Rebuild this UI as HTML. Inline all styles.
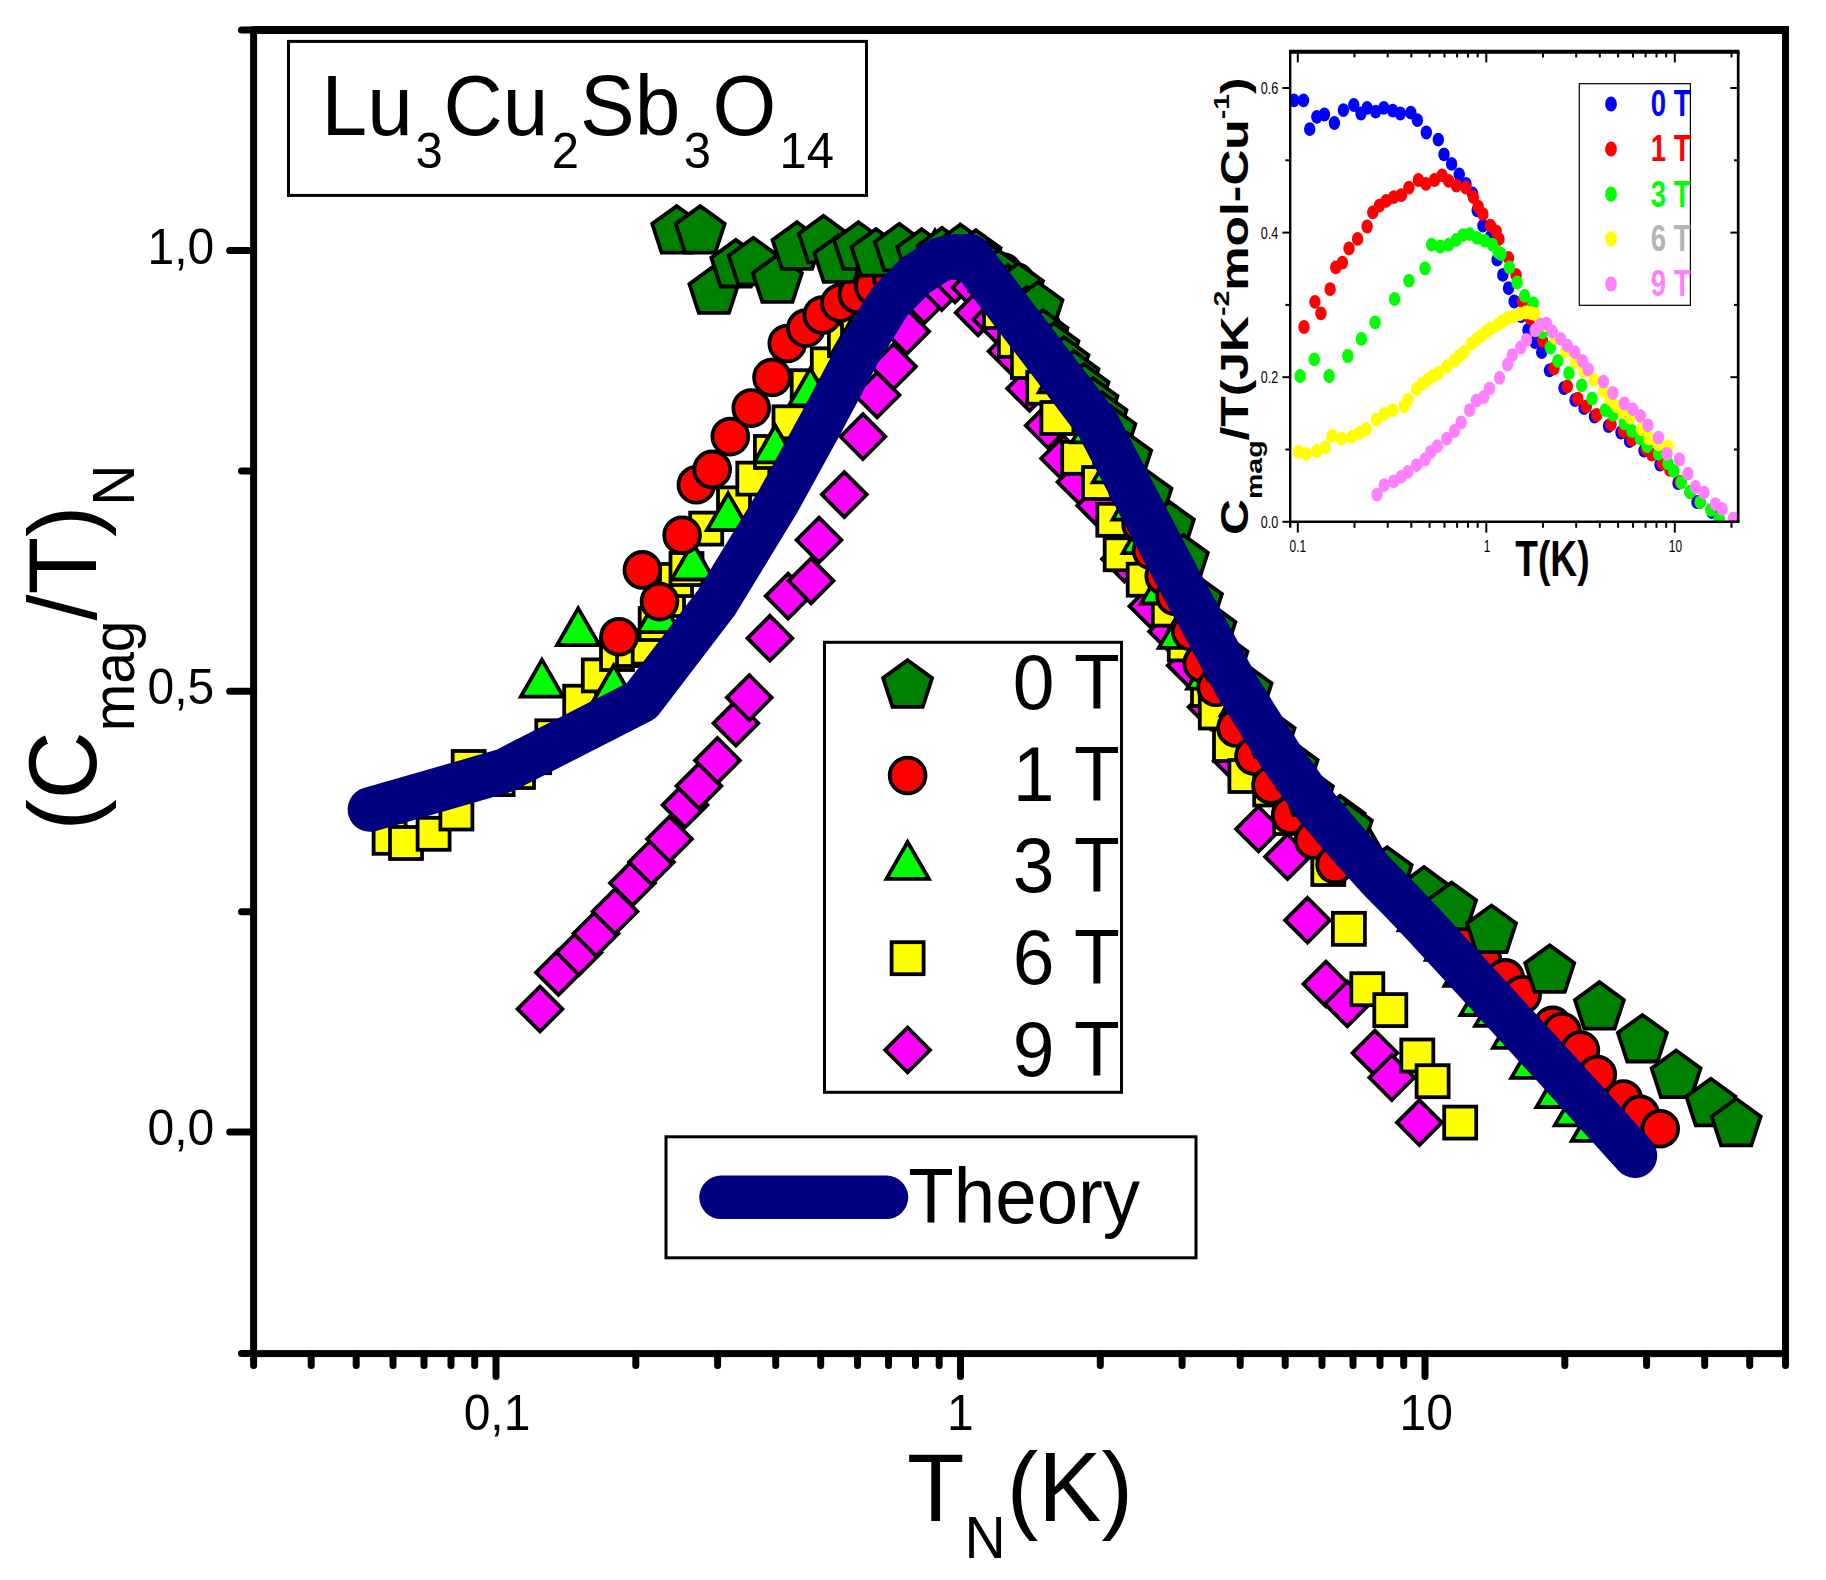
<!DOCTYPE html>
<html lang="en">
<head>
<meta charset="utf-8">
<title>Lu3Cu2Sb3O14 scaled specific heat</title>
<style>html,body{margin:0;padding:0;background:#fff}svg{display:block}</style>
</head>
<body>
<svg width="1826" height="1580" viewBox="0 0 1826 1580" font-family='"Liberation Sans", sans-serif'>
<rect width="1826" height="1580" fill="#fff"/>
<clipPath id="ic"><rect x="1290.2" y="51.8" width="448" height="471.2"/></clipPath>
<g clip-path="url(#ic)">
<g fill="#0000ff">
<ellipse cx="1294" cy="100.3" rx="5.7" ry="6.9"/>
<ellipse cx="1303.5" cy="100.3" rx="5.7" ry="6.9"/>
<ellipse cx="1309.7" cy="129.1" rx="5.7" ry="6.9"/>
<ellipse cx="1316.8" cy="116.8" rx="5.7" ry="6.9"/>
<ellipse cx="1324.4" cy="114.5" rx="5.7" ry="6.9"/>
<ellipse cx="1334.4" cy="123" rx="5.7" ry="6.9"/>
<ellipse cx="1343.4" cy="110.1" rx="5.7" ry="6.9"/>
<ellipse cx="1353.8" cy="105" rx="5.7" ry="6.9"/>
<ellipse cx="1361" cy="113.5" rx="5.7" ry="6.9"/>
<ellipse cx="1367.1" cy="107.8" rx="5.7" ry="6.9"/>
<ellipse cx="1375.6" cy="111.6" rx="5.7" ry="6.9"/>
<ellipse cx="1383.8" cy="107.8" rx="5.7" ry="6.9"/>
<ellipse cx="1392.7" cy="110.7" rx="5.7" ry="6.9"/>
<ellipse cx="1400.3" cy="113.5" rx="5.7" ry="6.9"/>
<ellipse cx="1410.8" cy="112.6" rx="5.7" ry="6.9"/>
<ellipse cx="1417.4" cy="120.2" rx="5.7" ry="6.9"/>
<ellipse cx="1426.3" cy="132.5" rx="5.7" ry="6.9"/>
<ellipse cx="1438.3" cy="139.7" rx="5.7" ry="6.9"/>
<ellipse cx="1444" cy="154.4" rx="5.7" ry="6.9"/>
<ellipse cx="1451.6" cy="163.9" rx="5.7" ry="6.9"/>
<ellipse cx="1459.2" cy="174.3" rx="5.7" ry="6.9"/>
<ellipse cx="1466" cy="184" rx="5.7" ry="6.9"/>
<ellipse cx="1472.5" cy="193.3" rx="5.7" ry="6.9"/>
<ellipse cx="1477.2" cy="210.4" rx="5.7" ry="6.9"/>
<ellipse cx="1482.9" cy="225.6" rx="5.7" ry="6.9"/>
<ellipse cx="1490.5" cy="237" rx="5.7" ry="6.9"/>
<ellipse cx="1497.1" cy="259.7" rx="5.7" ry="6.9"/>
<ellipse cx="1502.8" cy="274.9" rx="5.7" ry="6.9"/>
<ellipse cx="1508.5" cy="288.2" rx="5.7" ry="6.9"/>
<ellipse cx="1514.2" cy="301.5" rx="5.7" ry="6.9"/>
<ellipse cx="1521" cy="316" rx="5.7" ry="6.9"/>
<ellipse cx="1528" cy="330" rx="5.7" ry="6.9"/>
<ellipse cx="1535" cy="342" rx="5.7" ry="6.9"/>
<ellipse cx="1541.7" cy="352.2" rx="5.7" ry="6.9"/>
<ellipse cx="1549.5" cy="370.3" rx="5.7" ry="6.9"/>
<ellipse cx="1564" cy="388" rx="5.7" ry="6.9"/>
<ellipse cx="1575" cy="400" rx="5.7" ry="6.9"/>
<ellipse cx="1584" cy="408" rx="5.7" ry="6.9"/>
<ellipse cx="1594.5" cy="416.5" rx="5.7" ry="6.9"/>
<ellipse cx="1608.5" cy="426" rx="5.7" ry="6.9"/>
<ellipse cx="1621" cy="432.5" rx="5.7" ry="6.9"/>
<ellipse cx="1629.5" cy="441" rx="5.7" ry="6.9"/>
<ellipse cx="1644" cy="450.5" rx="5.7" ry="6.9"/>
<ellipse cx="1660" cy="464.5" rx="5.7" ry="6.9"/>
<ellipse cx="1678" cy="483" rx="5.7" ry="6.9"/>
<ellipse cx="1697" cy="502" rx="5.7" ry="6.9"/>
<ellipse cx="1712" cy="512" rx="5.7" ry="6.9"/>
</g>
<g fill="#ff0000">
<ellipse cx="1304" cy="327" rx="5.7" ry="6.9"/>
<ellipse cx="1314.9" cy="301.8" rx="5.7" ry="6.9"/>
<ellipse cx="1320.9" cy="313.3" rx="5.7" ry="6.9"/>
<ellipse cx="1330.1" cy="289.2" rx="5.7" ry="6.9"/>
<ellipse cx="1335.8" cy="267.3" rx="5.7" ry="6.9"/>
<ellipse cx="1342.4" cy="262.6" rx="5.7" ry="6.9"/>
<ellipse cx="1349" cy="248.4" rx="5.7" ry="6.9"/>
<ellipse cx="1357.6" cy="238.9" rx="5.7" ry="6.9"/>
<ellipse cx="1367.1" cy="226.5" rx="5.7" ry="6.9"/>
<ellipse cx="1372.8" cy="212.3" rx="5.7" ry="6.9"/>
<ellipse cx="1379.4" cy="205.6" rx="5.7" ry="6.9"/>
<ellipse cx="1386.1" cy="200.9" rx="5.7" ry="6.9"/>
<ellipse cx="1393.7" cy="197.1" rx="5.7" ry="6.9"/>
<ellipse cx="1401.3" cy="195.2" rx="5.7" ry="6.9"/>
<ellipse cx="1408.9" cy="187.6" rx="5.7" ry="6.9"/>
<ellipse cx="1418.4" cy="180" rx="5.7" ry="6.9"/>
<ellipse cx="1425.9" cy="183.8" rx="5.7" ry="6.9"/>
<ellipse cx="1434.5" cy="180" rx="5.7" ry="6.9"/>
<ellipse cx="1442.1" cy="175.3" rx="5.7" ry="6.9"/>
<ellipse cx="1448.7" cy="180.9" rx="5.7" ry="6.9"/>
<ellipse cx="1456.3" cy="185.7" rx="5.7" ry="6.9"/>
<ellipse cx="1465.8" cy="187.6" rx="5.7" ry="6.9"/>
<ellipse cx="1473.4" cy="197.1" rx="5.7" ry="6.9"/>
<ellipse cx="1478.2" cy="206.6" rx="5.7" ry="6.9"/>
<ellipse cx="1482.9" cy="214.2" rx="5.7" ry="6.9"/>
<ellipse cx="1490.5" cy="225.6" rx="5.7" ry="6.9"/>
<ellipse cx="1496.2" cy="231.3" rx="5.7" ry="6.9"/>
<ellipse cx="1499" cy="238.9" rx="5.7" ry="6.9"/>
<ellipse cx="1508.5" cy="257.8" rx="5.7" ry="6.9"/>
<ellipse cx="1516.1" cy="274.9" rx="5.7" ry="6.9"/>
<ellipse cx="1522.7" cy="301.5" rx="5.7" ry="6.9"/>
<ellipse cx="1530" cy="318" rx="5.7" ry="6.9"/>
<ellipse cx="1536" cy="330" rx="5.7" ry="6.9"/>
<ellipse cx="1542.7" cy="340.8" rx="5.7" ry="6.9"/>
<ellipse cx="1554" cy="368.4" rx="5.7" ry="6.9"/>
<ellipse cx="1567.3" cy="386.4" rx="5.7" ry="6.9"/>
<ellipse cx="1577.8" cy="398.7" rx="5.7" ry="6.9"/>
<ellipse cx="1586.3" cy="406.3" rx="5.7" ry="6.9"/>
<ellipse cx="1596.8" cy="414.9" rx="5.7" ry="6.9"/>
<ellipse cx="1611" cy="424.4" rx="5.7" ry="6.9"/>
<ellipse cx="1623.4" cy="431" rx="5.7" ry="6.9"/>
<ellipse cx="1631.9" cy="439.6" rx="5.7" ry="6.9"/>
<ellipse cx="1646.1" cy="449" rx="5.7" ry="6.9"/>
<ellipse cx="1651.8" cy="454.7" rx="5.7" ry="6.9"/>
<ellipse cx="1662.3" cy="463.3" rx="5.7" ry="6.9"/>
<ellipse cx="1669.9" cy="469.9" rx="5.7" ry="6.9"/>
<ellipse cx="1680" cy="482" rx="5.7" ry="6.9"/>
<ellipse cx="1690" cy="492" rx="5.7" ry="6.9"/>
<ellipse cx="1700" cy="502" rx="5.7" ry="6.9"/>
</g>
<g fill="#00ff00">
<ellipse cx="1300.1" cy="376" rx="5.7" ry="6.9"/>
<ellipse cx="1314.3" cy="359.4" rx="5.7" ry="6.9"/>
<ellipse cx="1329.1" cy="376" rx="5.7" ry="6.9"/>
<ellipse cx="1347.7" cy="356" rx="5.7" ry="6.9"/>
<ellipse cx="1361.4" cy="338.9" rx="5.7" ry="6.9"/>
<ellipse cx="1375.1" cy="322.4" rx="5.7" ry="6.9"/>
<ellipse cx="1394.6" cy="299" rx="5.7" ry="6.9"/>
<ellipse cx="1408.9" cy="280.6" rx="5.7" ry="6.9"/>
<ellipse cx="1425" cy="268.3" rx="5.7" ry="6.9"/>
<ellipse cx="1431.6" cy="244.6" rx="5.7" ry="6.9"/>
<ellipse cx="1440.2" cy="246.5" rx="5.7" ry="6.9"/>
<ellipse cx="1448.7" cy="244.6" rx="5.7" ry="6.9"/>
<ellipse cx="1456.3" cy="239.8" rx="5.7" ry="6.9"/>
<ellipse cx="1463" cy="235.1" rx="5.7" ry="6.9"/>
<ellipse cx="1469.6" cy="234.1" rx="5.7" ry="6.9"/>
<ellipse cx="1477.2" cy="237.9" rx="5.7" ry="6.9"/>
<ellipse cx="1484.8" cy="240.8" rx="5.7" ry="6.9"/>
<ellipse cx="1492.4" cy="244.6" rx="5.7" ry="6.9"/>
<ellipse cx="1498.1" cy="252.2" rx="5.7" ry="6.9"/>
<ellipse cx="1500.9" cy="254" rx="5.7" ry="6.9"/>
<ellipse cx="1509.4" cy="267.3" rx="5.7" ry="6.9"/>
<ellipse cx="1517" cy="282.5" rx="5.7" ry="6.9"/>
<ellipse cx="1524.6" cy="295.8" rx="5.7" ry="6.9"/>
<ellipse cx="1533.2" cy="303.4" rx="5.7" ry="6.9"/>
<ellipse cx="1542.7" cy="332.3" rx="5.7" ry="6.9"/>
<ellipse cx="1550.3" cy="347.5" rx="5.7" ry="6.9"/>
<ellipse cx="1557.8" cy="360.8" rx="5.7" ry="6.9"/>
<ellipse cx="1568.9" cy="373.1" rx="5.7" ry="6.9"/>
<ellipse cx="1581.6" cy="385.4" rx="5.7" ry="6.9"/>
<ellipse cx="1592" cy="398.7" rx="5.7" ry="6.9"/>
<ellipse cx="1605.3" cy="410.1" rx="5.7" ry="6.9"/>
<ellipse cx="1612.9" cy="414.9" rx="5.7" ry="6.9"/>
<ellipse cx="1624.3" cy="423.4" rx="5.7" ry="6.9"/>
<ellipse cx="1631.9" cy="431" rx="5.7" ry="6.9"/>
<ellipse cx="1640.4" cy="438.6" rx="5.7" ry="6.9"/>
<ellipse cx="1647.1" cy="446.2" rx="5.7" ry="6.9"/>
<ellipse cx="1658.5" cy="453.8" rx="5.7" ry="6.9"/>
<ellipse cx="1668" cy="463.3" rx="5.7" ry="6.9"/>
<ellipse cx="1673.7" cy="470.9" rx="5.7" ry="6.9"/>
<ellipse cx="1681.3" cy="482.3" rx="5.7" ry="6.9"/>
<ellipse cx="1690" cy="492" rx="5.7" ry="6.9"/>
<ellipse cx="1700.2" cy="502.2" rx="5.7" ry="6.9"/>
<ellipse cx="1710.7" cy="509.8" rx="5.7" ry="6.9"/>
<ellipse cx="1719.2" cy="518.4" rx="5.7" ry="6.9"/>
</g>
<g fill="#ffff00">
<ellipse cx="1298.7" cy="451.9" rx="5.7" ry="6.9"/>
<ellipse cx="1306.3" cy="453.8" rx="5.7" ry="6.9"/>
<ellipse cx="1316.8" cy="451" rx="5.7" ry="6.9"/>
<ellipse cx="1325.3" cy="447.2" rx="5.7" ry="6.9"/>
<ellipse cx="1332" cy="435.8" rx="5.7" ry="6.9"/>
<ellipse cx="1341.5" cy="438.6" rx="5.7" ry="6.9"/>
<ellipse cx="1351.9" cy="436.7" rx="5.7" ry="6.9"/>
<ellipse cx="1359.5" cy="432.9" rx="5.7" ry="6.9"/>
<ellipse cx="1366.1" cy="429.1" rx="5.7" ry="6.9"/>
<ellipse cx="1376.6" cy="419.6" rx="5.7" ry="6.9"/>
<ellipse cx="1384.2" cy="413.9" rx="5.7" ry="6.9"/>
<ellipse cx="1392.7" cy="410.1" rx="5.7" ry="6.9"/>
<ellipse cx="1404.1" cy="406.3" rx="5.7" ry="6.9"/>
<ellipse cx="1407.9" cy="399.7" rx="5.7" ry="6.9"/>
<ellipse cx="1416.5" cy="389.2" rx="5.7" ry="6.9"/>
<ellipse cx="1422" cy="384" rx="5.7" ry="6.9"/>
<ellipse cx="1427.8" cy="379.7" rx="5.7" ry="6.9"/>
<ellipse cx="1433" cy="376" rx="5.7" ry="6.9"/>
<ellipse cx="1438.3" cy="373.1" rx="5.7" ry="6.9"/>
<ellipse cx="1446.8" cy="366.5" rx="5.7" ry="6.9"/>
<ellipse cx="1454.4" cy="360.8" rx="5.7" ry="6.9"/>
<ellipse cx="1459" cy="356" rx="5.7" ry="6.9"/>
<ellipse cx="1463.9" cy="352.2" rx="5.7" ry="6.9"/>
<ellipse cx="1471.5" cy="343.7" rx="5.7" ry="6.9"/>
<ellipse cx="1476" cy="340" rx="5.7" ry="6.9"/>
<ellipse cx="1481" cy="336.1" rx="5.7" ry="6.9"/>
<ellipse cx="1486" cy="332" rx="5.7" ry="6.9"/>
<ellipse cx="1490.5" cy="328.5" rx="5.7" ry="6.9"/>
<ellipse cx="1498.1" cy="324.7" rx="5.7" ry="6.9"/>
<ellipse cx="1502.8" cy="320.9" rx="5.7" ry="6.9"/>
<ellipse cx="1508" cy="318" rx="5.7" ry="6.9"/>
<ellipse cx="1514.2" cy="316.1" rx="5.7" ry="6.9"/>
<ellipse cx="1520" cy="314" rx="5.7" ry="6.9"/>
<ellipse cx="1525.6" cy="312.3" rx="5.7" ry="6.9"/>
<ellipse cx="1531" cy="313" rx="5.7" ry="6.9"/>
<ellipse cx="1535.1" cy="314.2" rx="5.7" ry="6.9"/>
<ellipse cx="1545" cy="325" rx="5.7" ry="6.9"/>
<ellipse cx="1555" cy="338" rx="5.7" ry="6.9"/>
<ellipse cx="1565.4" cy="351.3" rx="5.7" ry="6.9"/>
<ellipse cx="1575" cy="362" rx="5.7" ry="6.9"/>
<ellipse cx="1584" cy="371" rx="5.7" ry="6.9"/>
<ellipse cx="1593.9" cy="379.7" rx="5.7" ry="6.9"/>
<ellipse cx="1603.4" cy="391.1" rx="5.7" ry="6.9"/>
<ellipse cx="1610" cy="399" rx="5.7" ry="6.9"/>
<ellipse cx="1616.7" cy="406.3" rx="5.7" ry="6.9"/>
<ellipse cx="1623" cy="412" rx="5.7" ry="6.9"/>
<ellipse cx="1630" cy="417.7" rx="5.7" ry="6.9"/>
<ellipse cx="1641.4" cy="429.1" rx="5.7" ry="6.9"/>
<ellipse cx="1649" cy="438.6" rx="5.7" ry="6.9"/>
<ellipse cx="1658.5" cy="444.3" rx="5.7" ry="6.9"/>
<ellipse cx="1668" cy="446.2" rx="5.7" ry="6.9"/>
</g>
<g fill="#ff80ff">
<ellipse cx="1377" cy="494.6" rx="5.7" ry="6.9"/>
<ellipse cx="1384.2" cy="485.1" rx="5.7" ry="6.9"/>
<ellipse cx="1393.7" cy="481.3" rx="5.7" ry="6.9"/>
<ellipse cx="1401.3" cy="476.6" rx="5.7" ry="6.9"/>
<ellipse cx="1407.9" cy="471.8" rx="5.7" ry="6.9"/>
<ellipse cx="1416.5" cy="465.2" rx="5.7" ry="6.9"/>
<ellipse cx="1425" cy="459.5" rx="5.7" ry="6.9"/>
<ellipse cx="1430.7" cy="451.9" rx="5.7" ry="6.9"/>
<ellipse cx="1437.3" cy="446.2" rx="5.7" ry="6.9"/>
<ellipse cx="1446.8" cy="438.6" rx="5.7" ry="6.9"/>
<ellipse cx="1454.4" cy="431" rx="5.7" ry="6.9"/>
<ellipse cx="1461.1" cy="422.5" rx="5.7" ry="6.9"/>
<ellipse cx="1469.6" cy="410.1" rx="5.7" ry="6.9"/>
<ellipse cx="1476.3" cy="400.6" rx="5.7" ry="6.9"/>
<ellipse cx="1483.8" cy="397" rx="5.7" ry="6.9"/>
<ellipse cx="1489.5" cy="388.3" rx="5.7" ry="6.9"/>
<ellipse cx="1499.5" cy="377.8" rx="5.7" ry="6.9"/>
<ellipse cx="1507.5" cy="364.6" rx="5.7" ry="6.9"/>
<ellipse cx="1512.3" cy="355.1" rx="5.7" ry="6.9"/>
<ellipse cx="1520.8" cy="347.5" rx="5.7" ry="6.9"/>
<ellipse cx="1526.5" cy="339.9" rx="5.7" ry="6.9"/>
<ellipse cx="1535.1" cy="330.4" rx="5.7" ry="6.9"/>
<ellipse cx="1540.8" cy="324.7" rx="5.7" ry="6.9"/>
<ellipse cx="1546.5" cy="323.7" rx="5.7" ry="6.9"/>
<ellipse cx="1552.2" cy="331.3" rx="5.7" ry="6.9"/>
<ellipse cx="1560.7" cy="338.9" rx="5.7" ry="6.9"/>
<ellipse cx="1567.3" cy="345.6" rx="5.7" ry="6.9"/>
<ellipse cx="1574.9" cy="352.2" rx="5.7" ry="6.9"/>
<ellipse cx="1582.5" cy="360.8" rx="5.7" ry="6.9"/>
<ellipse cx="1588.2" cy="369.3" rx="5.7" ry="6.9"/>
<ellipse cx="1603.4" cy="381.6" rx="5.7" ry="6.9"/>
<ellipse cx="1612.9" cy="393" rx="5.7" ry="6.9"/>
<ellipse cx="1624.3" cy="403.5" rx="5.7" ry="6.9"/>
<ellipse cx="1632.8" cy="409.2" rx="5.7" ry="6.9"/>
<ellipse cx="1640.4" cy="415.8" rx="5.7" ry="6.9"/>
<ellipse cx="1648" cy="425.3" rx="5.7" ry="6.9"/>
<ellipse cx="1658.5" cy="437.7" rx="5.7" ry="6.9"/>
<ellipse cx="1667" cy="453.8" rx="5.7" ry="6.9"/>
<ellipse cx="1679.4" cy="459.5" rx="5.7" ry="6.9"/>
<ellipse cx="1687.9" cy="473.7" rx="5.7" ry="6.9"/>
<ellipse cx="1695.5" cy="487" rx="5.7" ry="6.9"/>
<ellipse cx="1704" cy="492.7" rx="5.7" ry="6.9"/>
<ellipse cx="1715.4" cy="504.1" rx="5.7" ry="6.9"/>
<ellipse cx="1722.1" cy="508.9" rx="5.7" ry="6.9"/>
<ellipse cx="1733.5" cy="518.4" rx="5.7" ry="6.9"/>
</g>
</g>
<g stroke="#000" fill="none">
<line x1="1289" y1="51.8" x2="1739.5" y2="51.8" stroke-width="4"/>
<line x1="1289" y1="521.8" x2="1739.5" y2="521.8" stroke-width="2.4"/>
<line x1="1290.2" y1="51.8" x2="1290.2" y2="527.8" stroke-width="2.4"/>
<line x1="1738.2" y1="51.8" x2="1738.2" y2="521.8" stroke-width="2.7"/>
</g>
<g stroke="#000" stroke-width="2" fill="none">
<line x1="1297.8" y1="521.8" x2="1297.8" y2="532.6"/>
<line x1="1297.8" y1="51.8" x2="1297.8" y2="62.4"/>
<line x1="1354.5" y1="521.8" x2="1354.5" y2="527.8"/>
<line x1="1354.5" y1="51.8" x2="1354.5" y2="57.4"/>
<line x1="1387.7" y1="521.8" x2="1387.7" y2="527.8"/>
<line x1="1387.7" y1="51.8" x2="1387.7" y2="57.4"/>
<line x1="1411.3" y1="521.8" x2="1411.3" y2="527.8"/>
<line x1="1411.3" y1="51.8" x2="1411.3" y2="57.4"/>
<line x1="1429.6" y1="521.8" x2="1429.6" y2="527.8"/>
<line x1="1429.6" y1="51.8" x2="1429.6" y2="57.4"/>
<line x1="1444.5" y1="521.8" x2="1444.5" y2="527.8"/>
<line x1="1444.5" y1="51.8" x2="1444.5" y2="57.4"/>
<line x1="1457.1" y1="521.8" x2="1457.1" y2="527.8"/>
<line x1="1457.1" y1="51.8" x2="1457.1" y2="57.4"/>
<line x1="1468" y1="521.8" x2="1468" y2="527.8"/>
<line x1="1468" y1="51.8" x2="1468" y2="57.4"/>
<line x1="1477.7" y1="521.8" x2="1477.7" y2="527.8"/>
<line x1="1477.7" y1="51.8" x2="1477.7" y2="57.4"/>
<line x1="1486.3" y1="521.8" x2="1486.3" y2="532.6"/>
<line x1="1486.3" y1="51.8" x2="1486.3" y2="62.4"/>
<line x1="1543" y1="521.8" x2="1543" y2="527.8"/>
<line x1="1543" y1="51.8" x2="1543" y2="57.4"/>
<line x1="1576.2" y1="521.8" x2="1576.2" y2="527.8"/>
<line x1="1576.2" y1="51.8" x2="1576.2" y2="57.4"/>
<line x1="1599.8" y1="521.8" x2="1599.8" y2="527.8"/>
<line x1="1599.8" y1="51.8" x2="1599.8" y2="57.4"/>
<line x1="1618.1" y1="521.8" x2="1618.1" y2="527.8"/>
<line x1="1618.1" y1="51.8" x2="1618.1" y2="57.4"/>
<line x1="1633" y1="521.8" x2="1633" y2="527.8"/>
<line x1="1633" y1="51.8" x2="1633" y2="57.4"/>
<line x1="1645.6" y1="521.8" x2="1645.6" y2="527.8"/>
<line x1="1645.6" y1="51.8" x2="1645.6" y2="57.4"/>
<line x1="1656.5" y1="521.8" x2="1656.5" y2="527.8"/>
<line x1="1656.5" y1="51.8" x2="1656.5" y2="57.4"/>
<line x1="1666.2" y1="521.8" x2="1666.2" y2="527.8"/>
<line x1="1666.2" y1="51.8" x2="1666.2" y2="57.4"/>
<line x1="1674.8" y1="521.8" x2="1674.8" y2="532.6"/>
<line x1="1674.8" y1="51.8" x2="1674.8" y2="62.4"/>
<line x1="1731.5" y1="521.8" x2="1731.5" y2="527.8"/>
<line x1="1731.5" y1="51.8" x2="1731.5" y2="57.4"/>
<line x1="1282.4" y1="521.8" x2="1290.2" y2="521.8"/>
<line x1="1730.4" y1="521.8" x2="1738.2" y2="521.8"/>
<line x1="1285.4" y1="449.5" x2="1290.2" y2="449.5"/>
<line x1="1734" y1="449.5" x2="1738.2" y2="449.5"/>
<line x1="1282.4" y1="377.2" x2="1290.2" y2="377.2"/>
<line x1="1730.4" y1="377.2" x2="1738.2" y2="377.2"/>
<line x1="1285.4" y1="304.9" x2="1290.2" y2="304.9"/>
<line x1="1734" y1="304.9" x2="1738.2" y2="304.9"/>
<line x1="1282.4" y1="232.6" x2="1290.2" y2="232.6"/>
<line x1="1730.4" y1="232.6" x2="1738.2" y2="232.6"/>
<line x1="1285.4" y1="160.3" x2="1290.2" y2="160.3"/>
<line x1="1734" y1="160.3" x2="1738.2" y2="160.3"/>
<line x1="1282.4" y1="88" x2="1290.2" y2="88"/>
<line x1="1730.4" y1="88" x2="1738.2" y2="88"/>
</g>
<g font-size="17" fill="#000">
<text transform="translate(1278.2,527.7) scale(0.74,1)" text-anchor="end">0.0</text>
<text transform="translate(1278.2,383.1) scale(0.74,1)" text-anchor="end">0.2</text>
<text transform="translate(1278.2,238.5) scale(0.74,1)" text-anchor="end">0.4</text>
<text transform="translate(1278.2,93.9) scale(0.74,1)" text-anchor="end">0.6</text>
<text transform="translate(1297.8,551.6) scale(0.7,1)" text-anchor="middle">0.1</text>
<text transform="translate(1487,551.6) scale(0.7,1)" text-anchor="middle">1</text>
<text transform="translate(1675.4,551.6) scale(0.7,1)" text-anchor="middle">10</text>
</g>
<text transform="translate(1515.2,575.7) scale(0.775,1.04)" font-size="48" font-weight="bold" fill="#000">T(K)</text>
<text transform="translate(1248.4,535) scale(0.78,1) rotate(-90)" font-size="49.8" font-weight="bold" fill="#000">C<tspan font-size="28.5" dy="18">mag</tspan><tspan dy="-18">/T(JK</tspan><tspan font-size="28.5" dy="-25">-2</tspan><tspan dy="25">mol-Cu</tspan><tspan font-size="28.5" dy="-25">-1</tspan><tspan dy="25">)</tspan></text>
<rect x="1579.3" y="83.7" width="111.1" height="221.6" fill="#fff" stroke="#000" stroke-width="1.2"/>
<ellipse cx="1611" cy="104" rx="5.9" ry="7.6" fill="#0000ff"/>
<text transform="translate(1690.6,116.4) scale(0.755,1)" text-anchor="end" font-size="36.5" font-weight="bold" fill="#0000ff">0 T</text>
<ellipse cx="1611" cy="149" rx="5.9" ry="7.6" fill="#ff0000"/>
<text transform="translate(1690.6,161.4) scale(0.755,1)" text-anchor="end" font-size="36.5" font-weight="bold" fill="#ff0000">1 T</text>
<ellipse cx="1611" cy="194.2" rx="5.9" ry="7.6" fill="#00ff00"/>
<text transform="translate(1690.6,206.6) scale(0.755,1)" text-anchor="end" font-size="36.5" font-weight="bold" fill="#00ff00">3 T</text>
<ellipse cx="1611" cy="238.9" rx="5.9" ry="7.6" fill="#ffff00"/>
<text transform="translate(1690.6,251.3) scale(0.755,1)" text-anchor="end" font-size="36.5" font-weight="bold" fill="#b4b4b4">6 T</text>
<ellipse cx="1611" cy="284" rx="5.9" ry="7.6" fill="#ff80ff"/>
<text transform="translate(1690.6,296.4) scale(0.755,1)" text-anchor="end" font-size="36.5" font-weight="bold" fill="#ff80ff">9 T</text>
<g fill="#ff00ff" stroke="#000" stroke-width="3.8" stroke-linejoin="miter">
<polygon points="540,986.6 562.4,1009 540,1031.4 517.6,1009"/>
<polygon points="558.5,950.1 580.9,972.5 558.5,994.9 536.1,972.5"/>
<polygon points="579,930.1 601.4,952.5 579,974.9 556.6,952.5"/>
<polygon points="596,911.1 618.4,933.5 596,955.9 573.6,933.5"/>
<polygon points="615,889.1 637.4,911.5 615,933.9 592.6,911.5"/>
<polygon points="632.5,860.6 654.9,883 632.5,905.4 610.1,883"/>
<polygon points="651.5,839.6 673.9,862 651.5,884.4 629.1,862"/>
<polygon points="669.5,816.6 691.9,839 669.5,861.4 647.1,839"/>
<polygon points="685,782.6 707.4,805 685,827.4 662.6,805"/>
<polygon points="698.9,763.7 721.3,786.1 698.9,808.5 676.5,786.1"/>
<polygon points="717.5,738 739.9,760.4 717.5,782.8 695.1,760.4"/>
<polygon points="735.9,700.8 758.3,723.2 735.9,745.6 713.5,723.2"/>
<polygon points="749.3,675.2 771.7,697.6 749.3,720 726.9,697.6"/>
<polygon points="769.9,615.8 792.3,638.2 769.9,660.6 747.5,638.2"/>
<polygon points="788.1,573.7 810.5,596.1 788.1,618.5 765.7,596.1"/>
<polygon points="811.1,558.4 833.5,580.8 811.1,603.2 788.7,580.8"/>
<polygon points="819,517.6 841.4,540 819,562.4 796.6,540"/>
<polygon points="844.3,472.2 866.7,494.6 844.3,517 821.9,494.6"/>
<polygon points="862.9,414.2 885.3,436.6 862.9,459 840.5,436.6"/>
<polygon points="877.1,372.6 899.5,395 877.1,417.4 854.7,395"/>
<polygon points="893.5,344.1 915.9,366.5 893.5,388.9 871.1,366.5"/>
<polygon points="906.7,309 929.1,331.4 906.7,353.8 884.3,331.4"/>
<polygon points="924.2,278.4 946.6,300.8 924.2,323.2 901.8,300.8"/>
<polygon points="941.7,265.2 964.1,287.6 941.7,310 919.3,287.6"/>
<polygon points="955,257.6 977.4,280 955,302.4 932.6,280"/>
<polygon points="974.9,265.2 997.3,287.6 974.9,310 952.5,287.6"/>
<polygon points="978.1,290.4 1000.5,312.8 978.1,335.2 955.7,312.8"/>
<polygon points="995.7,297 1018.1,319.4 995.7,341.8 973.3,319.4"/>
<polygon points="1011,328.8 1033.4,351.2 1011,373.6 988.6,351.2"/>
<polygon points="1029.6,366 1052,388.4 1029.6,410.8 1007.2,388.4"/>
<polygon points="1048.2,403.2 1070.6,425.6 1048.2,448 1025.8,425.6"/>
<polygon points="1063.6,436.1 1086,458.5 1063.6,480.9 1041.2,458.5"/>
<polygon points="1080,459.6 1102.4,482 1080,504.4 1057.6,482"/>
<polygon points="1099.7,483.2 1122.1,505.6 1099.7,528 1077.3,505.6"/>
<polygon points="1124.5,536.7 1146.9,559.1 1124.5,581.5 1102.1,559.1"/>
<polygon points="1151.9,583.8 1174.3,606.2 1151.9,628.6 1129.5,606.2"/>
<polygon points="1171.6,609 1194,631.4 1171.6,653.8 1149.2,631.4"/>
<polygon points="1190.2,643 1212.6,665.4 1190.2,687.8 1167.8,665.4"/>
<polygon points="1211,684.6 1233.4,707 1211,729.4 1188.6,707"/>
<polygon points="1236.2,738.3 1258.6,760.7 1236.2,783.1 1213.8,760.7"/>
<polygon points="1258.5,806.6 1280.9,829 1258.5,851.4 1236.1,829"/>
<polygon points="1287.5,834.3 1309.9,856.7 1287.5,879.1 1265.1,856.7"/>
<polygon points="1307.5,897.8 1329.9,920.2 1307.5,942.6 1285.1,920.2"/>
<polygon points="1325.9,961.6 1348.3,984 1325.9,1006.4 1303.5,984"/>
<polygon points="1347.3,981.5 1369.7,1003.9 1347.3,1026.3 1324.9,1003.9"/>
<polygon points="1374.9,1030.6 1397.3,1053 1374.9,1075.4 1352.5,1053"/>
<polygon points="1391.8,1055.2 1414.2,1077.6 1391.8,1100 1369.4,1077.6"/>
<polygon points="1419.4,1100.2 1441.8,1122.6 1419.4,1145 1397,1122.6"/>
</g>
<g fill="#ffff00" stroke="#000" stroke-width="3.8" stroke-linejoin="miter">
<rect x="373.6" y="821.8" width="32" height="32"/>
<rect x="390" y="827" width="32" height="32"/>
<rect x="417.6" y="817.8" width="32" height="32"/>
<rect x="440.4" y="797.5" width="32" height="32"/>
<rect x="452.7" y="751" width="32" height="32"/>
<rect x="481.6" y="763.1" width="32" height="32"/>
<rect x="502" y="756" width="32" height="32"/>
<rect x="518.2" y="741.2" width="32" height="32"/>
<rect x="536.3" y="720.3" width="32" height="32"/>
<rect x="564.2" y="685.7" width="32" height="32"/>
<rect x="582.8" y="659.4" width="32" height="32"/>
<rect x="601" y="638" width="32" height="32"/>
<rect x="617" y="634" width="32" height="32"/>
<rect x="632.7" y="631.6" width="32" height="32"/>
<rect x="639.7" y="608" width="32" height="32"/>
<rect x="652" y="584" width="32" height="32"/>
<rect x="660" y="564" width="32" height="32"/>
<rect x="670.5" y="553" width="32" height="32"/>
<rect x="690.2" y="512.6" width="32" height="32"/>
<rect x="718" y="487.4" width="32" height="32"/>
<rect x="737.3" y="462.6" width="32" height="32"/>
<rect x="754.9" y="436" width="32" height="32"/>
<rect x="773.5" y="406.3" width="32" height="32"/>
<rect x="791.7" y="370.2" width="32" height="32"/>
<rect x="811.8" y="348.3" width="32" height="32"/>
<rect x="828.9" y="324.2" width="32" height="32"/>
<rect x="842" y="302" width="32" height="32"/>
<rect x="856" y="284" width="32" height="32"/>
<rect x="874" y="269" width="32" height="32"/>
<rect x="894" y="256" width="32" height="32"/>
<rect x="919" y="246" width="32" height="32"/>
<rect x="942" y="246" width="32" height="32"/>
<rect x="969" y="259" width="32" height="32"/>
<rect x="984" y="296" width="32" height="32"/>
<rect x="998.9" y="324.8" width="32" height="32"/>
<rect x="1011.9" y="346" width="32" height="32"/>
<rect x="1027.2" y="371.7" width="32" height="32"/>
<rect x="1041.4" y="402" width="32" height="32"/>
<rect x="1062.2" y="441.8" width="32" height="32"/>
<rect x="1083" y="467" width="32" height="32"/>
<rect x="1097.3" y="503.8" width="32" height="32"/>
<rect x="1104.7" y="538.3" width="32" height="32"/>
<rect x="1127.7" y="563.7" width="32" height="32"/>
<rect x="1152.8" y="593.6" width="32" height="32"/>
<rect x="1168.8" y="628.4" width="32" height="32"/>
<rect x="1192" y="674" width="32" height="32"/>
<rect x="1199.8" y="696.5" width="32" height="32"/>
<rect x="1214" y="729" width="32" height="32"/>
<rect x="1229.4" y="760" width="32" height="32"/>
<rect x="1254.2" y="773.5" width="32" height="32"/>
<rect x="1274" y="802" width="32" height="32"/>
<rect x="1312.3" y="853" width="32" height="32"/>
<rect x="1332.9" y="912.8" width="32" height="32"/>
<rect x="1351.3" y="973.2" width="32" height="32"/>
<rect x="1374.3" y="994.1" width="32" height="32"/>
<rect x="1401.3" y="1039.5" width="32" height="32"/>
<rect x="1416.6" y="1065.2" width="32" height="32"/>
<rect x="1444.2" y="1106.6" width="32" height="32"/>
</g>
<g fill="#00ff00" stroke="#000" stroke-width="3.8" stroke-linejoin="miter">
<polygon points="542,659.9 563.2,696.7 520.8,696.7"/>
<polygon points="578.2,608.4 599.5,645.2 557,645.2"/>
<polygon points="613.7,665.4 635,702.2 592.5,702.2"/>
<polygon points="658.8,595.3 680,632.1 637.5,632.1"/>
<polygon points="692.8,542.7 714,579.5 671.5,579.5"/>
<polygon points="728.1,493.4 749.4,530.2 706.9,530.2"/>
<polygon points="775.2,425.5 796.5,462.3 754,462.3"/>
<polygon points="810.3,368.5 831.5,405.3 789,405.3"/>
<polygon points="852,318.5 873.2,355.3 830.8,355.3"/>
<polygon points="872,287.5 893.2,324.3 850.8,324.3"/>
<polygon points="893,261.5 914.2,298.3 871.8,298.3"/>
<polygon points="910,240.5 931.2,277.3 888.8,277.3"/>
<polygon points="935,230.5 956.2,267.3 913.8,267.3"/>
<polygon points="960,225.5 981.2,262.3 938.8,262.3"/>
<polygon points="985,237.5 1006.2,274.3 963.8,274.3"/>
<polygon points="1010,265.5 1031.2,302.3 988.8,302.3"/>
<polygon points="1035,305.5 1056.2,342.3 1013.8,342.3"/>
<polygon points="1060,355.5 1081.2,392.3 1038.8,392.3"/>
<polygon points="1093,405.5 1114.2,442.3 1071.8,442.3"/>
<polygon points="1114,445.5 1135.2,482.3 1092.8,482.3"/>
<polygon points="1133.8,482.8 1155,519.6 1112.5,519.6"/>
<polygon points="1143.9,516.3 1165.2,553.1 1122.7,553.1"/>
<polygon points="1162.2,566.7 1183.5,603.5 1141,603.5"/>
<polygon points="1180,611 1201.2,647.8 1158.8,647.8"/>
<polygon points="1208.4,651.8 1229.7,688.6 1187.2,688.6"/>
<polygon points="1242,678.5 1263.2,715.3 1220.8,715.3"/>
<polygon points="1262,713.5 1283.2,750.3 1240.8,750.3"/>
<polygon points="1282,745.5 1303.2,782.3 1260.8,782.3"/>
<polygon points="1300,770.5 1321.2,807.3 1278.8,807.3"/>
<polygon points="1320,790.5 1341.2,827.3 1298.8,827.3"/>
<polygon points="1339.2,797.8 1360.5,834.6 1318,834.6"/>
<polygon points="1369.5,829.5 1390.8,866.3 1348.2,866.3"/>
<polygon points="1395,860.5 1416.2,897.3 1373.8,897.3"/>
<polygon points="1420,893.5 1441.2,930.3 1398.8,930.3"/>
<polygon points="1447.3,923 1468.5,959.8 1426,959.8"/>
<polygon points="1465.7,949.1 1487,985.9 1444.5,985.9"/>
<polygon points="1481.7,978.2 1503,1015 1460.5,1015"/>
<polygon points="1496.4,989 1517.7,1025.8 1475.2,1025.8"/>
<polygon points="1514.2,1011 1535.5,1047.8 1493,1047.8"/>
<polygon points="1532.6,1041.1 1553.8,1077.9 1511.3,1077.9"/>
<polygon points="1557.7,1070.2 1579,1107 1536.5,1107"/>
<polygon points="1576.1,1088.6 1597.3,1125.4 1554.8,1125.4"/>
<polygon points="1593,1104 1614.2,1140.8 1571.8,1140.8"/>
</g>
<g fill="#ff0000" stroke="#000" stroke-width="3.8" stroke-linejoin="miter">
<circle cx="619" cy="636.7" r="17.9"/>
<circle cx="642.4" cy="569.9" r="17.9"/>
<circle cx="659.5" cy="601.6" r="17.9"/>
<circle cx="682.1" cy="535.2" r="17.9"/>
<circle cx="696.4" cy="484.8" r="17.9"/>
<circle cx="712.2" cy="469.4" r="17.9"/>
<circle cx="730.3" cy="436.6" r="17.9"/>
<circle cx="751.2" cy="408.1" r="17.9"/>
<circle cx="772" cy="377.4" r="17.9"/>
<circle cx="787.3" cy="343.5" r="17.9"/>
<circle cx="805.9" cy="328.1" r="17.9"/>
<circle cx="822.3" cy="315" r="17.9"/>
<circle cx="839.9" cy="303" r="17.9"/>
<circle cx="857.4" cy="294.2" r="17.9"/>
<circle cx="873.8" cy="286.5" r="17.9"/>
<circle cx="892" cy="278" r="17.9"/>
<circle cx="912" cy="270" r="17.9"/>
<circle cx="935" cy="262" r="17.9"/>
<circle cx="960" cy="258" r="17.9"/>
<circle cx="985" cy="262" r="17.9"/>
<circle cx="1003" cy="272" r="17.9"/>
<circle cx="1015.7" cy="281.8" r="17.9"/>
<circle cx="1031.4" cy="304.1" r="17.9"/>
<circle cx="1041" cy="325" r="17.9"/>
<circle cx="1055" cy="346" r="17.9"/>
<circle cx="1070" cy="368" r="17.9"/>
<circle cx="1086" cy="390" r="17.9"/>
<circle cx="1099" cy="412" r="17.9"/>
<circle cx="1110" cy="434" r="17.9"/>
<circle cx="1120" cy="460" r="17.9"/>
<circle cx="1128" cy="490" r="17.9"/>
<circle cx="1141" cy="524" r="17.9"/>
<circle cx="1151.5" cy="550.6" r="17.9"/>
<circle cx="1164.2" cy="576" r="17.9"/>
<circle cx="1175" cy="596.2" r="17.9"/>
<circle cx="1190.8" cy="631.6" r="17.9"/>
<circle cx="1202.2" cy="663.3" r="17.9"/>
<circle cx="1216.1" cy="687.3" r="17.9"/>
<circle cx="1236" cy="728" r="17.9"/>
<circle cx="1254" cy="756" r="17.9"/>
<circle cx="1271" cy="785" r="17.9"/>
<circle cx="1290.6" cy="815.3" r="17.9"/>
<circle cx="1313.6" cy="839.9" r="17.9"/>
<circle cx="1335.1" cy="864.4" r="17.9"/>
<circle cx="1378" cy="880" r="17.9"/>
<circle cx="1400" cy="901" r="17.9"/>
<circle cx="1422" cy="922" r="17.9"/>
<circle cx="1442" cy="938" r="17.9"/>
<circle cx="1460.8" cy="938" r="17.9"/>
<circle cx="1482.3" cy="959.5" r="17.9"/>
<circle cx="1505.3" cy="977.9" r="17.9"/>
<circle cx="1522.1" cy="994.7" r="17.9"/>
<circle cx="1552.8" cy="1025.4" r="17.9"/>
<circle cx="1562" cy="1031.5" r="17.9"/>
<circle cx="1580.4" cy="1050" r="17.9"/>
<circle cx="1597.3" cy="1074.5" r="17.9"/>
<circle cx="1623.4" cy="1099" r="17.9"/>
<circle cx="1640.2" cy="1114.3" r="17.9"/>
<circle cx="1660.2" cy="1128.8" r="17.9"/>
</g>
<g fill="#008000" stroke="#000" stroke-width="3.8" stroke-linejoin="miter">
<polygon points="676.7,206.1 701.2,223.8 691.8,252.6 661.6,252.6 652.2,223.8"/>
<polygon points="700.2,206.1 724.7,223.8 715.3,252.6 685.1,252.6 675.7,223.8"/>
<polygon points="713.9,266.2 738.4,284 729,312.8 698.8,312.8 689.4,284"/>
<polygon points="735.8,239.9 760.3,257.7 750.9,286.5 720.7,286.5 711.3,257.7"/>
<polygon points="753.3,237.8 777.8,255.5 768.4,284.3 738.2,284.3 728.8,255.5"/>
<polygon points="777.4,255.2 801.9,273 792.5,301.8 762.3,301.8 752.9,273"/>
<polygon points="797,222.2 821.5,240 812.1,268.8 781.9,268.8 772.5,240"/>
<polygon points="823.4,215.8 847.9,233.6 838.5,262.4 808.3,262.4 798.9,233.6"/>
<polygon points="838.8,235.2 863.3,253 853.9,281.8 823.7,281.8 814.3,253"/>
<polygon points="858.5,222.2 883,240 873.6,268.8 843.4,268.8 834,240"/>
<polygon points="876,229.1 900.5,246.8 891.1,275.6 860.9,275.6 851.5,246.8"/>
<polygon points="899.3,223.8 923.8,241.6 914.4,270.4 884.2,270.4 874.8,241.6"/>
<polygon points="921.7,229.2 946.2,246.9 936.8,275.7 906.6,275.7 897.2,246.9"/>
<polygon points="942,227.8 966.5,245.6 957.1,274.4 926.9,274.4 917.5,245.6"/>
<polygon points="960.4,224.6 984.9,242.3 975.5,271.1 945.3,271.1 935.9,242.3"/>
<polygon points="976,230.2 1000.5,248 991.1,276.8 960.9,276.8 951.5,248"/>
<polygon points="987,242.2 1011.5,260 1002.1,288.8 971.9,288.8 962.5,260"/>
<polygon points="998.5,250.2 1023,268 1013.6,296.8 983.4,296.8 974,268"/>
<polygon points="1008,265.2 1032.5,283 1023.1,311.8 992.9,311.8 983.5,283"/>
<polygon points="1018.5,263.2 1043,281 1033.6,309.8 1003.4,309.8 994,281"/>
<polygon points="1027,287.2 1051.5,305 1042.1,333.8 1011.9,333.8 1002.5,305"/>
<polygon points="1038,282.2 1062.5,300 1053.1,328.8 1022.9,328.8 1013.5,300"/>
<polygon points="1043,310.2 1067.5,328 1058.1,356.8 1027.9,356.8 1018.5,328"/>
<polygon points="1054,323.2 1078.5,341 1069.1,369.8 1038.9,369.8 1029.5,341"/>
<polygon points="1064,337.2 1088.5,355 1079.1,383.8 1048.9,383.8 1039.5,355"/>
<polygon points="1074,351.2 1098.5,369 1089.1,397.8 1058.9,397.8 1049.5,369"/>
<polygon points="1084,364.2 1108.5,382 1099.1,410.8 1068.9,410.8 1059.5,382"/>
<polygon points="1093,378.2 1117.5,396 1108.1,424.8 1077.9,424.8 1068.5,396"/>
<polygon points="1102,392.2 1126.5,410 1117.1,438.8 1086.9,438.8 1077.5,410"/>
<polygon points="1110.9,406.2 1135.4,424 1126,452.8 1095.8,452.8 1086.4,424"/>
<polygon points="1126.7,432.8 1151.2,450.5 1141.8,479.3 1111.6,479.3 1102.2,450.5"/>
<polygon points="1147,470.8 1171.5,488.5 1162.1,517.3 1131.9,517.3 1122.5,488.5"/>
<polygon points="1169.4,501.9 1193.9,519.6 1184.5,548.4 1154.3,548.4 1144.9,519.6"/>
<polygon points="1183.3,535 1207.8,552.8 1198.4,581.6 1168.2,581.6 1158.8,552.8"/>
<polygon points="1197.4,576.2 1221.9,594 1212.5,622.8 1182.3,622.8 1172.9,594"/>
<polygon points="1210.9,604.1 1235.4,621.9 1226,650.7 1195.8,650.7 1186.4,621.9"/>
<polygon points="1223,633.8 1247.5,651.5 1238.1,680.3 1207.9,680.3 1198.5,651.5"/>
<polygon points="1247.1,665.5 1271.6,683.2 1262.2,712 1232,712 1222.6,683.2"/>
<polygon points="1270.1,710.4 1294.6,728.1 1285.2,756.9 1255,756.9 1245.6,728.1"/>
<polygon points="1293.1,742.1 1317.6,759.9 1308.2,788.7 1278,788.7 1268.6,759.9"/>
<polygon points="1308.4,768.5 1332.9,786.2 1323.5,815 1293.3,815 1283.9,786.2"/>
<polygon points="1340.2,795.9 1364.7,813.6 1355.3,842.4 1325.1,842.4 1315.7,813.6"/>
<polygon points="1347.3,802.8 1371.8,820.5 1362.4,849.3 1332.2,849.3 1322.8,820.5"/>
<polygon points="1387.2,847.2 1411.7,865 1402.3,893.8 1372.1,893.8 1362.7,865"/>
<polygon points="1424,867.1 1448.5,884.9 1439.1,913.7 1408.9,913.7 1399.5,884.9"/>
<polygon points="1451.6,882.5 1476.1,900.3 1466.7,929.1 1436.5,929.1 1427.1,900.3"/>
<polygon points="1491.5,905.5 1516,923.3 1506.6,952.1 1476.4,952.1 1467,923.3"/>
<polygon points="1549.7,945.4 1574.2,963.1 1564.8,991.9 1534.6,991.9 1525.2,963.1"/>
<polygon points="1599.4,982.1 1623.9,999.9 1614.5,1028.7 1584.3,1028.7 1574.9,999.9"/>
<polygon points="1642.4,1015 1666.9,1032.7 1657.5,1061.5 1627.3,1061.5 1617.9,1032.7"/>
<polygon points="1676.1,1050.5 1700.6,1068.3 1691.2,1097.1 1661,1097.1 1651.6,1068.3"/>
<polygon points="1710.8,1078.8 1735.3,1096.5 1725.9,1125.3 1695.7,1125.3 1686.3,1096.5"/>
<polygon points="1736.2,1098.8 1760.7,1116.5 1751.3,1145.3 1721.1,1145.3 1711.7,1116.5"/>
</g>
<polyline points="369.9,809.5 504.3,770.7 641.2,700.9 716.8,601.9 778,501.5 822,421.3 858.5,352.3 889.5,302 916,275.2 940,259.6 956,256.3 969.5,256.3 1097.5,424.4 1179,580 1237,686.5 1282,758 1318.6,809.6 1349.7,846 1376.6,876 1400.3,900 1421.5,922.3 1561,1074.1 1635,1155.7" fill="none" stroke="#000080" stroke-width="44.5" stroke-linecap="round" stroke-linejoin="round"/>
<g stroke="#000" stroke-width="7" fill="none" stroke-linecap="round">
<rect x="253.6" y="30.1" width="1531.9" height="1323.5" stroke-linejoin="miter"/>
<line x1="253.6" y1="30" x2="1789" y2="30" stroke-width="8" stroke-linecap="butt"/>
<line x1="241.5" y1="30.1" x2="253.6" y2="30.1"/>
<line x1="229.7" y1="250.5" x2="253.6" y2="250.5"/>
<line x1="241.5" y1="470.9" x2="253.6" y2="470.9"/>
<line x1="229.7" y1="691.3" x2="253.6" y2="691.3"/>
<line x1="241.5" y1="911.7" x2="253.6" y2="911.7"/>
<line x1="229.7" y1="1132.1" x2="253.6" y2="1132.1"/>
<line x1="241.5" y1="1353.6" x2="253.6" y2="1353.6"/>
<line x1="253.6" y1="1353.6" x2="253.6" y2="1365.5"/>
<line x1="311.2" y1="1353.6" x2="311.2" y2="1365.5"/>
<line x1="356.2" y1="1353.6" x2="356.2" y2="1365.5"/>
<line x1="393" y1="1353.6" x2="393" y2="1365.5"/>
<line x1="424" y1="1353.6" x2="424" y2="1365.5"/>
<line x1="451" y1="1353.6" x2="451" y2="1365.5"/>
<line x1="474.7" y1="1353.6" x2="474.7" y2="1365.5"/>
<line x1="496" y1="1353.6" x2="496" y2="1376.5"/>
<line x1="635.8" y1="1353.6" x2="635.8" y2="1365.5"/>
<line x1="717.6" y1="1353.6" x2="717.6" y2="1365.5"/>
<line x1="775.7" y1="1353.6" x2="775.7" y2="1365.5"/>
<line x1="820.7" y1="1353.6" x2="820.7" y2="1365.5"/>
<line x1="857.5" y1="1353.6" x2="857.5" y2="1365.5"/>
<line x1="888.5" y1="1353.6" x2="888.5" y2="1365.5"/>
<line x1="915.5" y1="1353.6" x2="915.5" y2="1365.5"/>
<line x1="939.2" y1="1353.6" x2="939.2" y2="1365.5"/>
<line x1="960.5" y1="1353.6" x2="960.5" y2="1376.5"/>
<line x1="1100.3" y1="1353.6" x2="1100.3" y2="1365.5"/>
<line x1="1182.1" y1="1353.6" x2="1182.1" y2="1365.5"/>
<line x1="1240.2" y1="1353.6" x2="1240.2" y2="1365.5"/>
<line x1="1285.2" y1="1353.6" x2="1285.2" y2="1365.5"/>
<line x1="1322" y1="1353.6" x2="1322" y2="1365.5"/>
<line x1="1353" y1="1353.6" x2="1353" y2="1365.5"/>
<line x1="1380" y1="1353.6" x2="1380" y2="1365.5"/>
<line x1="1403.7" y1="1353.6" x2="1403.7" y2="1365.5"/>
<line x1="1425" y1="1353.6" x2="1425" y2="1376.5"/>
<line x1="1564.8" y1="1353.6" x2="1564.8" y2="1365.5"/>
<line x1="1646.6" y1="1353.6" x2="1646.6" y2="1365.5"/>
<line x1="1704.7" y1="1353.6" x2="1704.7" y2="1365.5"/>
<line x1="1749.7" y1="1353.6" x2="1749.7" y2="1365.5"/>
<line x1="1785.5" y1="1353.6" x2="1785.5" y2="1365.5"/>
</g>
<g font-size="48" fill="#000">
<text transform="translate(214.3,263.9) scale(1,1.035)" text-anchor="end">1,0</text>
<text transform="translate(214.3,704.3) scale(1,1.035)" text-anchor="end">0,5</text>
<text transform="translate(214.3,1145.1) scale(1,1.035)" text-anchor="end">0,0</text>
<text transform="translate(497,1430.2) scale(1,1.035)" text-anchor="middle">0,1</text>
<text transform="translate(960.4,1430.2) scale(1,1.035)" text-anchor="middle">1</text>
<text transform="translate(1426.3,1430.2) scale(1,1.035)" text-anchor="middle">10</text>
</g>
<text transform="translate(907.1,1520.9) scale(1,1.035)" font-size="94" fill="#000">T<tspan font-size="57" dy="35.7">N</tspan><tspan dy="-35.7" dx="1.2" font-size="94.6">(K)</tspan></text>
<text transform="translate(96,830.5) rotate(-90) scale(1,1.035)" font-size="94" fill="#000">(C<tspan font-size="57" dy="36.7">mag</tspan><tspan dy="-36.7">/T)</tspan><tspan font-size="57" dy="36.7">N</tspan></text>
<rect x="288.5" y="41.4" width="578" height="154" fill="#fff" stroke="#000" stroke-width="3"/>
<text transform="translate(0,134.5) scale(1,1.035)" font-size="82" fill="#000"><tspan x="321.6">Lu</tspan><tspan font-size="49" dy="31.9" x="415.4">3</tspan><tspan dy="-31.9" x="443.5">Cu</tspan><tspan font-size="49" dy="31.9" x="551.7">2</tspan><tspan dy="-31.9" x="580">Sb</tspan><tspan font-size="49" dy="31.9" x="683.8">3</tspan><tspan dy="-31.9" x="712.4">O</tspan><tspan font-size="49" dy="31.9" x="779.6">14</tspan></text>
<rect x="824.5" y="642.3" width="297" height="450" fill="#fff" stroke="#000" stroke-width="3"/>
<g fill="#008000" stroke="#000" stroke-width="3.8" stroke-linejoin="miter">
<polygon points="907.6,660.2 932.1,678 922.7,706.8 892.5,706.8 883.1,678"/>
</g>
<g fill="#ff0000" stroke="#000" stroke-width="3.8" stroke-linejoin="miter">
<circle cx="907.6" cy="775.5" r="17.9"/>
</g>
<g fill="#00ff00" stroke="#000" stroke-width="3.8" stroke-linejoin="miter">
<polygon points="907.6,842 928.9,878.8 886.4,878.8"/>
</g>
<g fill="#ffff00" stroke="#000" stroke-width="3.8" stroke-linejoin="miter">
<rect x="891.6" y="942.2" width="32" height="32"/>
</g>
<g fill="#ff00ff" stroke="#000" stroke-width="3.8" stroke-linejoin="miter">
<polygon points="907.6,1027.6 930,1050 907.6,1072.4 885.2,1050"/>
</g>
<g font-size="75" fill="#000" text-anchor="end">
<text transform="translate(1119.8,709.3) scale(1,1.035)">0 T</text>
<text transform="translate(1119.8,801) scale(1,1.035)">1 T</text>
<text transform="translate(1119.8,892.4) scale(1,1.035)">3 T</text>
<text transform="translate(1119.8,983.7) scale(1,1.035)">6 T</text>
<text transform="translate(1119.8,1075.5) scale(1,1.035)">9 T</text>
</g>
<rect x="666" y="1136.8" width="530" height="121" fill="#fff" stroke="#000" stroke-width="3"/>
<line x1="721" y1="1197.3" x2="886.5" y2="1197.3" stroke="#000080" stroke-width="43.5" stroke-linecap="round"/>
<text transform="translate(908.3,1222.8) scale(1,1.035)" font-size="74.5" fill="#000">Theory</text>
</svg>
</body>
</html>
